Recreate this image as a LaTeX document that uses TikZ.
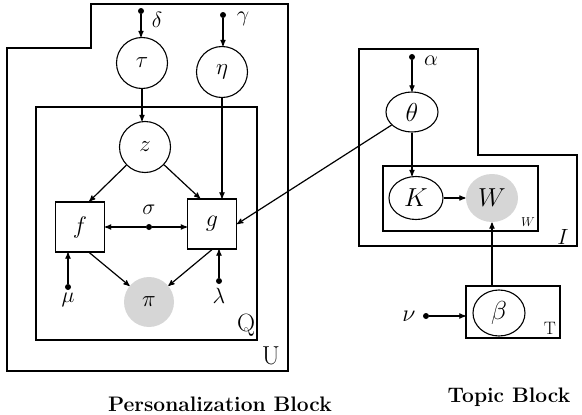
\RequirePackage{fix-cm}
\documentclass[tikz,border=0pt]{standalone}
\usepackage{amsmath,amssymb}
\usepackage{tikz}
\usetikzlibrary{arrows,positioning,shapes.geometric}
\tikzset{
 >=stealth',
 var/.style={shape=circle,draw,line width=1.1pt,minimum size=51pt,inner sep=0pt,font=\fontsize{23}{26}\selectfont},
 evar/.style={shape=ellipse,draw,line width=1.1pt,inner sep=0pt,font=\fontsize{26}{30}\selectfont},
 obs/.style={shape=circle,fill=black!16,minimum size=50pt,inner sep=0pt,font=\fontsize{23}{26}\selectfont},
 fac/.style={shape=rectangle,draw,line width=1.2pt,minimum width=49pt,minimum height=50pt,inner sep=0pt,font=\fontsize{24}{28}\selectfont},
 hyp/.style={shape=circle,fill,inner sep=0pt,minimum size=6pt},
 lbl/.style={font=\fontsize{22}{26}\selectfont,inner sep=0pt},
 plate/.style={line width=1.2pt},
 conn/.style={->,line width=1.2pt}
}

\begin{document}
\begin{tikzpicture}[x=1pt,y=-1pt]
\useasboundingbox (0,0) rectangle (582,415);

% plates
\draw[plate] (91,48) -- (91,4) -- (288,4) -- (288,371) -- (7,371) -- (7,48) -- cycle;
\draw[plate] (36,107) rectangle (257,340);
\draw[plate] (359,49) -- (478,49) -- (478,155) -- (577,155) -- (577,246) -- (359,246) -- cycle;
\draw[plate] (383,166) rectangle (538,231);
\path (271,356) node[lbl,font=\fontsize{26}{30}\selectfont] {U};
\path (246,325) node[lbl,font=\fontsize{25}{30}\selectfont] {Q};
\path (563,237) node[lbl,font=\fontsize{22}{26}\selectfont] {$I$};
\path (528,222) node[lbl,font=\fontsize{13}{15}\selectfont] {$W$};

% personalization block
\path (141,11) node[hyp,name=delta] {};
\path (157,20) node[lbl] {$\delta$};
\path (223,15) node[hyp,name=gamma] {};
\path (243,19) node[lbl] {$\gamma$};
\path (142,63) node[var,name=tau] {$\tau$};
\path (222,72) node[var,name=eta] {$\eta$};
\path (145,147) node[var,name=z] {$z$};
\path (80,227) node[fac,name=f] {$f$};
\path (212,224) node[fac,name=g] {$g$};
\path (149,227) node[hyp,name=sigma] {};
\path (149,210) node[lbl] {$\sigma$};
\path (68,287) node[hyp,name=mu] {};
\path (68,300) node[lbl] {$\mu$};
\path (219,281) node[hyp,name=lambda] {};
\path (219,296) node[lbl] {$\lambda$};
\path (149,302) node[obs,name=pi] {$\pi$};

\path[conn] (delta) edge (delta |- tau.north);
\path[conn] (gamma) edge (gamma |- eta.north);
\path[conn] (tau.south) edge (tau.south |- z.north);
\path[conn] (eta.south) edge (eta.south |- g.north);
\path[conn] (z) edge (f.70);
\path[conn] (z) edge (g.115);
\path[conn] (sigma) edge (f.east |- sigma);
\path[conn] (sigma) edge (g.west |- sigma);
\path[conn] (mu) edge (mu |- f.south);
\path[conn] (lambda) edge (lambda |- g.south);
\path[conn] (f.-70) edge (pi);
\path[conn] (g.south) edge (pi);

% topic block
\path (412,57) node[hyp,name=alpha] {};
\path (431,61) node[lbl] {$\alpha$};
\path (412,112) node[evar,minimum width=52pt,minimum height=40pt,name=theta] {$\theta$};
\path (416,198) node[evar,minimum width=54pt,minimum height=43pt,name=K] {$K$};
\path (492,198) node[evar,draw=none,fill=black!16,minimum width=52pt,minimum height=48pt,name=W] {$W$};
\path (513,312) node[draw,plate,minimum width=94pt,minimum height=52pt,name=Tbox] {};
\path (550,328) node[lbl,font=\fontsize{18}{22}\selectfont] {T};
\path (499,313) node[evar,minimum width=52pt,minimum height=46pt,name=beta] {$\beta$};
\path (426,316) node[hyp,name=nu] {};
\path (nu) node[lbl,left=7pt of nu,font=\fontsize{24}{28}\selectfont] {$\nu$};

\path[conn] (alpha) edge (alpha |- theta.north);
\path[conn] (theta.south) edge (theta.south |- K.north);
\path[conn] (K) edge (W);
\path[conn] (Tbox.north -| W.south) edge (W.south);
\path[conn] (nu) edge (nu -| Tbox.west);
\path[conn] (theta) edge (g.east);

% captions
\path (220,404) node[font=\fontsize{21}{24}\selectfont\bfseries] {Personalization Block};
\path (509,397) node[font=\fontsize{21}{24}\selectfont\bfseries] {Topic Block};
\end{tikzpicture}
\end{document}
